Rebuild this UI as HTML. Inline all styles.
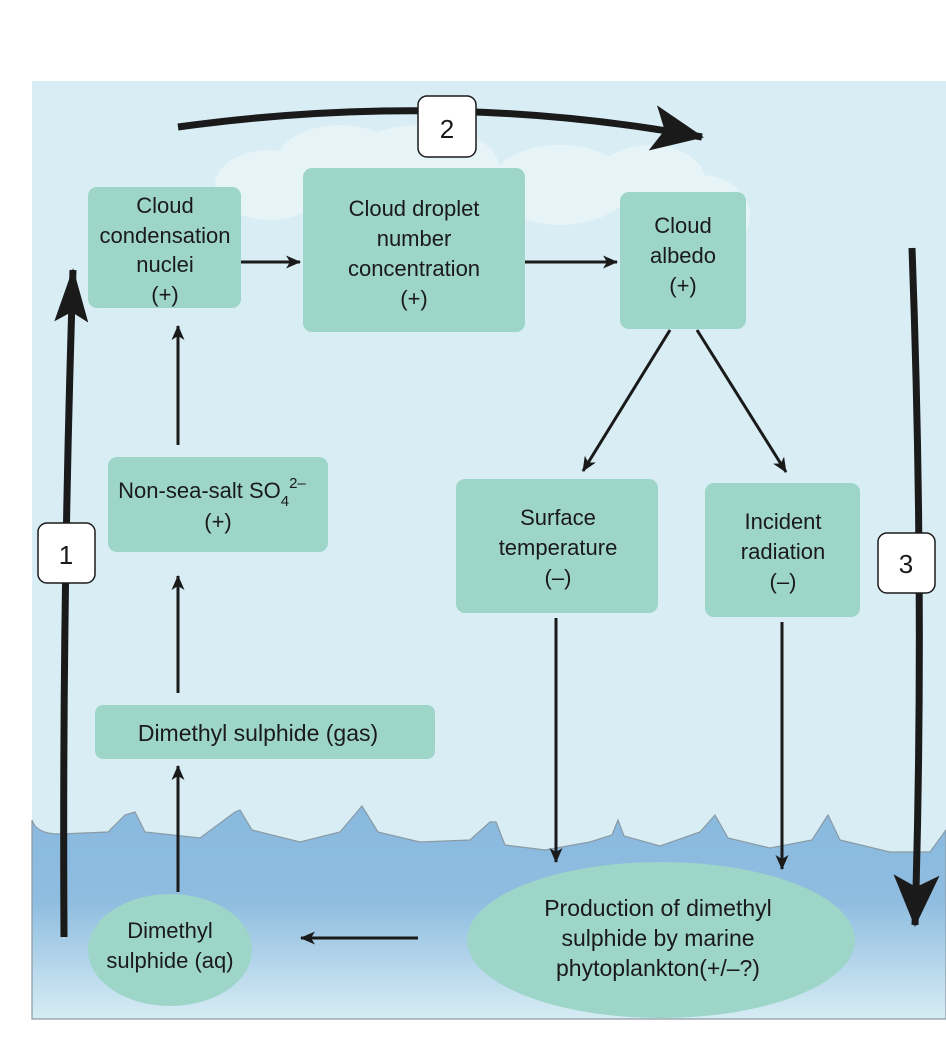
<!DOCTYPE html>
<html><head><style>
html,body{margin:0;padding:0;background:#fff;}
svg text{font-family:"Liberation Sans Narrow","Liberation Sans",sans-serif;font-size:22px;fill:#1a1a1a;text-anchor:middle;}
</style></head><body>
<svg width="946" height="1033" viewBox="0 0 946 1033" xmlns="http://www.w3.org/2000/svg">
<defs>
<linearGradient id="sea" x1="0" y1="0" x2="0" y2="1">
<stop offset="0" stop-color="#8ab9df"/><stop offset="0.45" stop-color="#8fbde0"/><stop offset="1" stop-color="#d6ecf4"/>
</linearGradient>
<marker id="ah" markerWidth="15" markerHeight="13" refX="14" refY="6.5" orient="auto" markerUnits="userSpaceOnUse">
<path d="M0,0 L15,6.5 L0,13 L4,6.5 Z" fill="#1a1a1a"/></marker>
<marker id="ah2" markerWidth="52" markerHeight="46" refX="50" refY="23" orient="auto" markerUnits="userSpaceOnUse">
<path d="M0,0 L52,23 L0,46 L12,23 Z" fill="#1a1a1a"/></marker>
<marker id="ah3" markerWidth="54" markerHeight="34" refX="52" refY="17" orient="auto" markerUnits="userSpaceOnUse">
<path d="M0,0 L54,17 L0,34 L10,17 Z" fill="#1a1a1a"/></marker>
</defs>
<rect x="32" y="81" width="914" height="938" fill="#d8eef4"/>
<g fill="#e6f3f7">
<ellipse cx="270" cy="185" rx="55" ry="35"/><ellipse cx="340" cy="165" rx="65" ry="40"/>
<ellipse cx="420" cy="170" rx="80" ry="45"/><ellipse cx="560" cy="185" rx="70" ry="40"/>
<ellipse cx="650" cy="180" rx="55" ry="35"/><ellipse cx="700" cy="215" rx="50" ry="40"/>
</g>
<path d="M32,820 Q36,834 60,834 L108,832 L125,815 L135,812 L145,832 L200,838 L235,812 L240,810 L252,830 L300,842 L340,832 L362,806 L378,832 L420,842 L470,840 L490,822 L496,822 L505,845 L545,850 L590,842 L612,835 L618,820 L624,836 L660,846 L700,832 L715,815 L728,838 L770,848 L812,840 L828,815 L840,840 L890,852 L930,852 L946,830 L946,1019 L32,1019 Z" fill="url(#sea)" stroke="#8a9aa5" stroke-width="1.2"/>
<g fill="#9dd5c8">
<rect x="88" y="187" width="153" height="121" rx="9"/>
<rect x="303" y="168" width="222" height="164" rx="9"/>
<rect x="620" y="192" width="126" height="137" rx="9"/>
<rect x="108" y="457" width="220" height="95" rx="9"/>
<rect x="95" y="705" width="340" height="54" rx="8"/>
<rect x="456" y="479" width="202" height="134" rx="9"/>
<rect x="705" y="483" width="155" height="134" rx="9"/>
<ellipse cx="170" cy="950" rx="82" ry="56"/>
<ellipse cx="661" cy="940" rx="194" ry="78"/>
</g>
<g stroke="#1a1a1a" stroke-width="3" fill="none" marker-end="url(#ah)">
<line x1="241" y1="262" x2="300" y2="262"/>
<line x1="525" y1="262" x2="617" y2="262"/>
<line x1="670" y1="330" x2="583" y2="471"/>
<line x1="697" y1="330" x2="786" y2="472"/>
<line x1="178" y1="445" x2="178" y2="326"/>
<line x1="178" y1="693" x2="178" y2="576"/>
<line x1="178" y1="892" x2="178" y2="766"/>
<line x1="556" y1="618" x2="556" y2="862"/>
<line x1="782" y1="622" x2="782" y2="869"/>
<line x1="418" y1="938" x2="301" y2="938"/>
</g>
<g stroke="#1a1a1a" stroke-width="7" fill="none">
<path d="M64,937 Q62,600 73,270" marker-end="url(#ah3)"/>
<path d="M178,127 Q447,90 702,137" marker-end="url(#ah2)"/>
<path d="M912,248 Q925,600 915,925" marker-end="url(#ah2)"/>
</g>
<g fill="#fff" stroke="#1a1a1a" stroke-width="1.5">
<rect x="38" y="523" width="57" height="60" rx="9"/>
<rect x="418" y="96" width="58" height="61" rx="9"/>
<rect x="878" y="533" width="57" height="60" rx="9"/>
</g>
<text x="66" y="564" style="font-size:26px">1</text>
<text x="447" y="138" style="font-size:26px">2</text>
<text x="906" y="573" style="font-size:26px">3</text>
<text x="165" y="213">Cloud</text><text x="165" y="243">condensation</text><text x="165" y="272">nuclei</text><text x="165" y="302">(+)</text>
<text x="414" y="216">Cloud droplet</text><text x="414" y="246">number</text><text x="414" y="276">concentration</text><text x="414" y="306">(+)</text>
<text x="683" y="233">Cloud</text><text x="683" y="263">albedo</text><text x="683" y="293">(+)</text>
<text x="212" y="498">Non-sea-salt SO<tspan dy="8" style="font-size:15px">4</tspan><tspan dy="-18" style="font-size:15px">2–</tspan></text>
<text x="218" y="529">(+)</text>
<text x="258" y="741" style="font-size:23px">Dimethyl sulphide (gas)</text>
<text x="558" y="525">Surface</text><text x="558" y="555">temperature</text><text x="558" y="585">(–)</text>
<text x="783" y="529">Incident</text><text x="783" y="559">radiation</text><text x="783" y="589">(–)</text>
<text x="170" y="938">Dimethyl</text><text x="170" y="968">sulphide (aq)</text>
<text x="658" y="916" style="font-size:23px">Production of dimethyl</text><text x="658" y="946" style="font-size:23px">sulphide by marine</text><text x="658" y="976" style="font-size:23px">phytoplankton(+/–?)</text>
</svg>
</body></html>
